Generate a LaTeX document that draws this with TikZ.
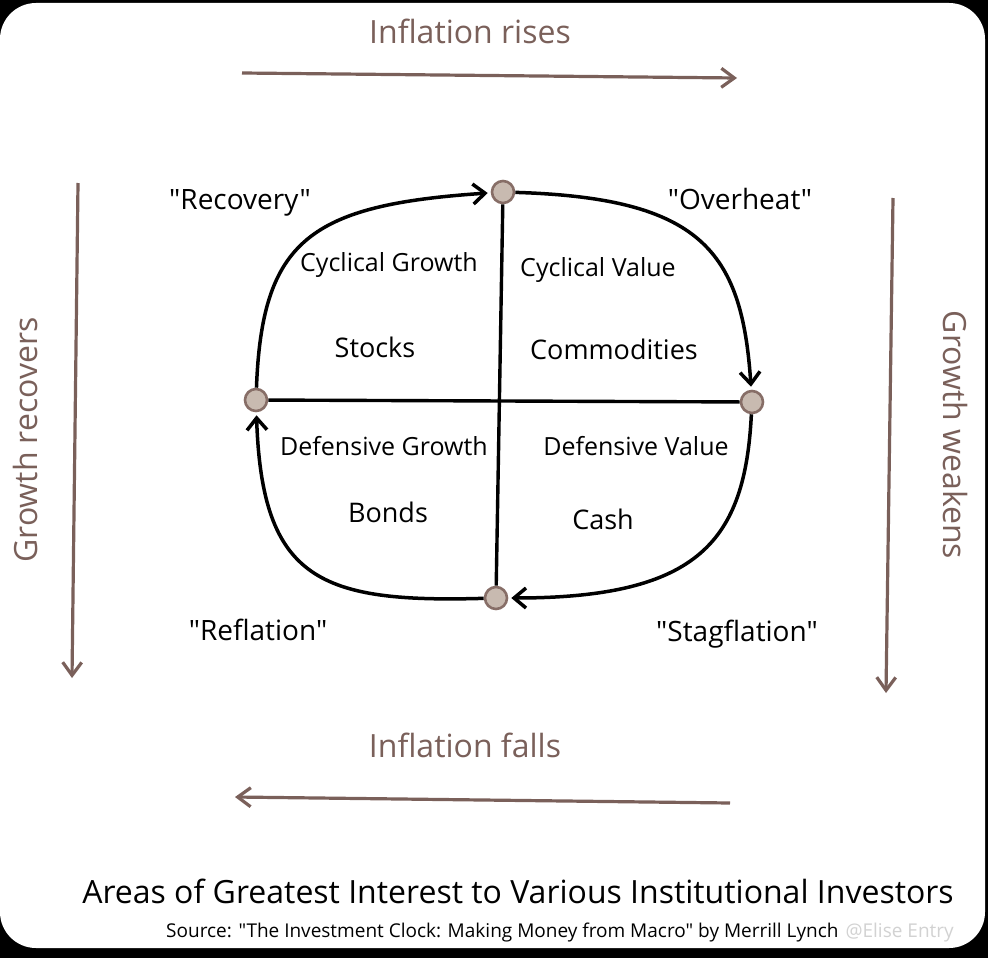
\documentclass[tikz,border=0pt]{standalone}
\usepackage{fontspec}
\setmainfont{Open Sans}[Ligatures=TeXOff]
\usepackage{xcolor}
\usetikzlibrary{arrows.meta,positioning}

\definecolor{trend}{RGB}{122,96,90}
\definecolor{dotfill}{RGB}{200,186,176}
\definecolor{dotdraw}{RGB}{135,110,103}

\begin{document}
\begin{tikzpicture}[
    x=1pt, y=-1pt,
    every node/.style={font=\fontsize{22}{24}\selectfont},
    dot/.style={circle, draw=dotdraw, fill=dotfill, line width=2.6pt,
                minimum size=22pt, inner sep=0pt},
    quad/.style={font=\fontsize{25}{28}\selectfont},
    asset/.style={font=\fontsize{27}{30}\selectfont},
    phase/.style={font=\fontsize{28}{30}\selectfont},
    trendlbl/.style={text=trend, font=\fontsize{32}{34}\selectfont},
    trendarr/.style={-{Straight Barb[length=13pt,width=19pt]}, line width=3.2pt, color=trend},
    cyc/.style={-{Straight Barb[length=12pt,width=20pt]}, line width=3.5pt, shorten >=3pt},
    axis/.style={line width=3.4pt},
]
% Frame
\fill[black] (0,0) rectangle (988,958);
\fill[white, rounded corners=36pt] (0,3) rectangle (985,948);
\useasboundingbox (0,0) rectangle (988,958);

% Clock points
\node[dot] (T) at (503,192) {};
\node[dot] (R) at (752,402) {};
\node[dot] (B) at (496,598) {};
\node[dot] (L) at (256,400) {};

% Axes
\draw[axis] (L) -- (R);
\draw[axis] (T) -- (B);

% Cycle
\draw[cyc] (L) .. controls (262,240) and (310,205) .. (T);
\draw[cyc] (T) .. controls (700,198) and (742,250) .. (R);
\draw[cyc] (R) .. controls (745,540) and (700,598) .. (B);
\draw[cyc] (B) .. controls (320,603) and (262,580) .. (L);

% Phases
\node[phase] (rec) at (240,203) {"Recovery"};
\node[phase] (ovh) at (740,199) {"Overheat"};
\node[phase] (ref) at (258,630) {"Reflation"};
\node[phase] (stg) at (737,634) {"Stagflation"};

% Quadrants
\node[quad]  (cg) at (389,265) {Cyclical Growth};
\node[asset] (st) at (375,347) {Stocks};
\node[quad]  (cv) at (598,270) {Cyclical Value};
\node[asset] (co) at (614,349) {Commodities};
\node[quad]  (dg) at (384,446) {Defensive Growth};
\node[asset] (bo) at (388,512) {Bonds};
\node[quad]  (dv) at (636,446) {Defensive Value};
\node[asset] (ca) at (603,519) {Cash};

% Trends
\coordinate (ir1) at (242,73);  \coordinate (ir2) at (737,78);
\coordinate (gw1) at (893,198); \coordinate (gw2) at (886,693);
\coordinate (if1) at (730,803); \coordinate (if2) at (235,797);
\coordinate (gr1) at (78,183);  \coordinate (gr2) at (72,678);
\draw[trendarr] (ir1) -- (ir2);
\draw[trendarr] (gw1) -- (gw2);
\draw[trendarr] (if1) -- (if2);
\draw[trendarr] (gr1) -- (gr2);
\node[trendlbl] (irl) at (470,31) {Inflation rises};
\node[trendlbl] (ifl) at (465,745) {Inflation falls};
\node[trendlbl, rotate=90]  (grl) at (25,440) {Growth recovers};
\node[trendlbl, rotate=-90] (gwl) at (955,435) {Growth weakens};

% Caption
\node[font=\fontsize{32}{34}\selectfont] (ttl) at (518,891) {Areas of Greatest Interest to Various Institutional Investors};
\node[font=\fontsize{19}{22}\selectfont, anchor=east] (src) at (842,933) {Source: "The Investment Clock: Making Money from Macro" by Merrill Lynch};
\node[font=\fontsize{19}{22}\selectfont, text=gray!35, anchor=west] (wm) at (src.east) {@Elise Entry};
\end{tikzpicture}
\end{document}
